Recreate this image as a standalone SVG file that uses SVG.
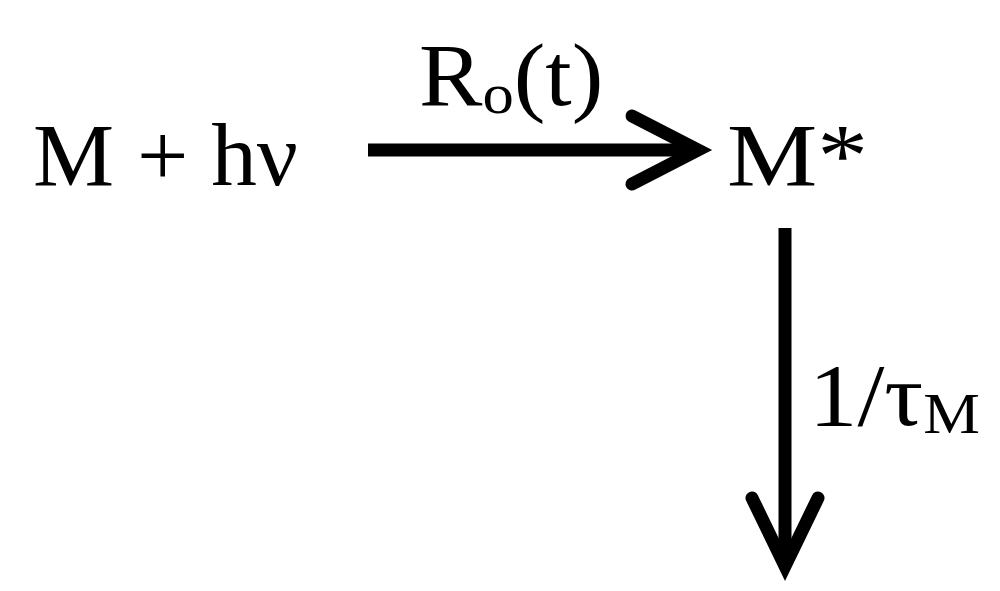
<svg xmlns="http://www.w3.org/2000/svg" width="1000" height="591" viewBox="0 0 1000 591">
<style>
text{font-family:"Liberation Serif","Times New Roman",serif;fill:#000;font-size:88px}
.c{stroke:#000;stroke-width:13;fill:none;stroke-linecap:butt}
.h{stroke:#000;stroke-width:13;fill:none;stroke-linecap:round;stroke-linejoin:miter}
</style>
<rect width="1000" height="591" fill="#fff"/>
<g id="reactant"><text x="33" y="185" textLength="265" lengthAdjust="spacingAndGlyphs">M + hν</text></g>
<g id="excited"><text x="727" y="185" textLength="141" lengthAdjust="spacingAndGlyphs">M*</text></g>
<g id="connectors">
<line class="c" x1="368" y1="150" x2="694" y2="150"/>
<polyline class="h" points="632,116 698,150 632,184"/>
<line class="c" x1="785" y1="228" x2="785" y2="564"/>
<polyline class="h" points="752,498 785,566 818,498"/>
</g>
<g id="label-rate"><text x="419" y="105" transform="translate(419 0) scale(1.08 1) translate(-419 0)">R<tspan font-size="58" dy="8">o</tspan><tspan dy="-8">(t)</tspan></text></g>
<g id="label-decay"><text x="809" y="425" transform="translate(809 0) scale(1.1 1) translate(-809 0)">1/τ<tspan font-size="58" dy="8">M</tspan></text></g>
</svg>
